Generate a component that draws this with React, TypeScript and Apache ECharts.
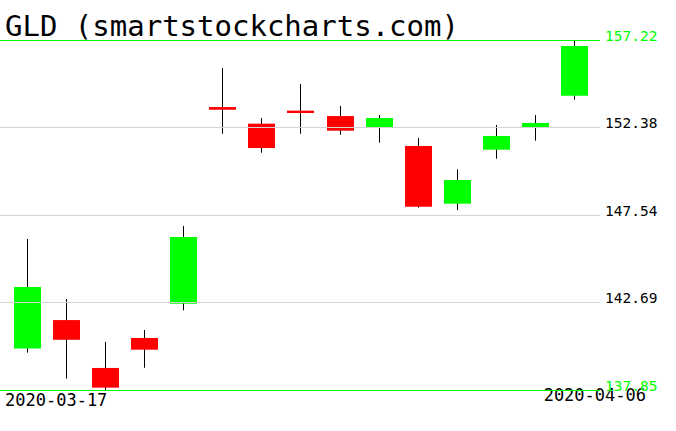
import React, { useEffect, useRef } from "react";
import * as echarts from "echarts";

const dates = [
  "2020-03-17", "2020-03-18", "2020-03-19", "2020-03-20", "2020-03-23",
  "2020-03-24", "2020-03-25", "2020-03-26", "2020-03-27", "2020-03-30",
  "2020-03-31", "2020-04-01", "2020-04-02", "2020-04-03", "2020-04-06",
];
const opens = [140.14, 141.72, 139.07, 140.73, 142.63, 153.51, 152.59, 153.31, 153.01, 152.37, 151.35, 148.16, 151.15, 152.37, 154.14];
const closes = [143.55, 140.63, 137.98, 140.08, 146.32, 153.36, 151.24, 153.18, 152.2, 152.9, 147.99, 149.47, 151.91, 152.63, 156.89];
const lows = [139.92, 138.48, 137.85, 139.08, 142.26, 152.03, 150.98, 152.03, 151.98, 151.54, 147.94, 147.81, 150.65, 151.65, 153.92];
const highs = [146.21, 142.89, 140.51, 141.17, 146.93, 155.67, 152.9, 154.79, 153.57, 153.07, 151.8, 150.06, 152.52, 153.07, 157.22];
const tickLabels = ["137.85", "142.69", "147.54", "152.38", "157.22"];
const title = "GLD (smartstockcharts.com)";

const GREEN = "#00ff00";
const RED = "#ff0000";
const GRID = "#d3d3d3";
const MONO = "DejaVu Sans Mono";

export default function App() {
  const ref = useRef<HTMLDivElement>(null);
  useEffect(() => {
    if (!ref.current) return;
    const chart = echarts.init(ref.current, undefined, { renderer: "svg" });
    const yMin = Number(tickLabels[0]);
    const yMax = Number(tickLabels[tickLabels.length - 1]);
    const data = dates.map((_, i) => [i, opens[i], closes[i], lows[i], highs[i]]);
    chart.setOption({
      animation: false,
      backgroundColor: "#ffffff",
      grid: [
        { left: 0, right: 76, top: 40, bottom: 41 },
        { left: 7, right: 82, top: 40, bottom: 41 },
      ],
      xAxis: [
        { gridIndex: 0, type: "value", min: 0, max: 1, show: false },
        { gridIndex: 1, type: "category", data: dates, show: false, boundaryGap: true },
      ],
      yAxis: [
        {
          gridIndex: 0,
          type: "value",
          position: "right",
          min: 0,
          max: tickLabels.length - 1,
          interval: 1,
          z: 10,
          axisLine: { show: false },
          axisTick: { show: false },
          splitLine: {
            show: true,
            lineStyle: { color: [GREEN, GRID, GRID, GRID, GREEN], width: 1 },
          },
          axisLabel: {
            margin: 5,
            fontFamily: MONO,
            fontSize: 14.5,
            verticalAlign: "bottom",
            lineHeight: 9,
            formatter: (v: number) => tickLabels[v] ?? "",
            color: (_v: any, idx: number) =>
              idx === 0 || idx === tickLabels.length - 1 ? GREEN : "#000000",
          },
        },
        {
          gridIndex: 1,
          type: "value",
          min: yMin,
          max: yMax,
          show: false,
          splitLine: { show: false },
        },
      ],
      series: [
        {
          type: "custom",
          xAxisIndex: 1,
          yAxisIndex: 1,
          z: 2,
          data,
          encode: { x: 0, y: [1, 2, 3, 4] },
          renderItem: (_params: any, api: any) => {
            const idx = api.value(0);
            const o = api.value(1);
            const c = api.value(2);
            const l = api.value(3);
            const h = api.value(4);
            const oP = api.coord([idx, o]);
            const cP = api.coord([idx, c]);
            const lP = api.coord([idx, l]);
            const hP = api.coord([idx, h]);
            const x = Math.round(oP[0]) + 0.5;
            const bw = 27;
            const color = c >= o ? GREEN : RED;
            const top = Math.min(oP[1], cP[1]);
            const height = Math.max(Math.abs(oP[1] - cP[1]), 1);
            return {
              type: "group",
              children: [
                {
                  type: "line",
                  shape: { x1: x, y1: hP[1], x2: x, y2: lP[1] },
                  style: { stroke: "#000000", lineWidth: 1 },
                },
                {
                  type: "rect",
                  shape: { x: Math.round(x - bw / 2), y: top, width: bw, height },
                  style: { fill: color },
                },
              ],
            };
          },
        },
      ],
      graphic: [
        {
          type: "text",
          x: 5,
          y: 11,
          style: {
            text: title,
            font: `29px "${MONO}"`,
            fill: "#000000",
            textAlign: "left",
            textVerticalAlign: "top",
          },
        },
        {
          type: "text",
          x: 5,
          y: 391,
          style: {
            text: dates[0],
            font: `17px "${MONO}"`,
            fill: "#000000",
            textAlign: "left",
            textVerticalAlign: "top",
          },
        },
        {
          type: "text",
          x: 646,
          y: 386,
          style: {
            text: dates[dates.length - 1],
            font: `17px "${MONO}"`,
            fill: "#000000",
            textAlign: "right",
            textVerticalAlign: "top",
          },
        },
      ],
    });
    return () => chart.dispose();
  }, []);
  return (
    <div
      ref={ref}
      style={{ position: "fixed", left: 0, top: 0, width: 676, height: 431 }}
    />
  );
}
